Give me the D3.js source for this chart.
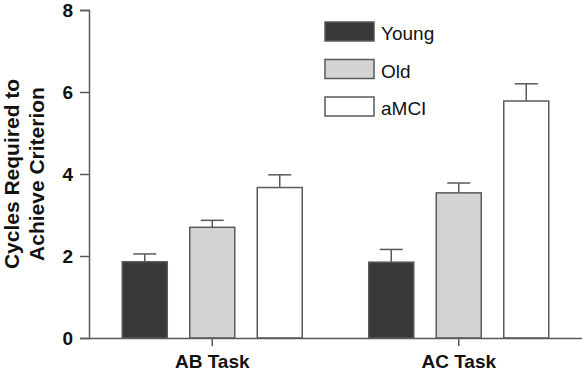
<!DOCTYPE html>
<html lang="en">
<head>
<meta charset="UTF-8">
<title>Cycles Required to Achieve Criterion</title>
<script src="https://d3js.org/d3.v7.min.js"></script>
<style>
    body { margin: 0; background: #fff; }
    svg text { font-family: Arial, "Liberation Sans", sans-serif; }
    .tick-label { font-size: 19px; font-weight: bold; fill: #111; }
    .axis-title { font-size: 21px; font-weight: bold; fill: #111; }
    .legend-label { font-size: 19px; fill: #111; }
</style>
</head>
<body>
<div id="chart"></div>
<script>
    // data
    const tasks = ["AB Task", "AC Task"];
    const groups = ["Young", "Old", "aMCI"];
    const means = [
        [1.86, 2.70, 3.67],
        [1.85, 3.54, 5.78]
    ];
    const errors = [
        [0.19, 0.17, 0.31],
        [0.31, 0.24, 0.42]
    ];
    const yTicks = [0, 2, 4, 6, 8];
    const fills = ["#393939", "#d3d4d6", "#ffffff"];

    const width = 582, height = 374;
    const margin = { left: 89, right: 0, top: 10, bottom: 36 };
    const lineColor = "#5a5a5a";

    const svg = d3.select("#chart").append("svg")
        .attr("width", width)
        .attr("height", height);

    const y = d3.scaleLinear()
        .domain([0, 8])
        .range([height - margin.bottom, margin.top]);

    const x0 = d3.scaleBand()
        .domain(tasks)
        .range([margin.left, width - margin.right]);

    // bars inside each task group, relative to its centre
    const x1 = d3.scaleBand()
        .domain(groups)
        .range([-90, 90])
        .paddingInner(0.333);

    // bars + error bars
    tasks.forEach((t, ti) => {
        const cx = x0(t) + x0.bandwidth() / 2;
        const g = svg.append("g").attr("transform", `translate(${cx},0)`);
        groups.forEach((grp, gi) => {
            const bx = x1(grp), bw = x1.bandwidth();
            const m = means[ti][gi], e = errors[ti][gi];
            const mid = bx + bw / 2;
            g.append("line")
                .attr("x1", mid).attr("x2", mid)
                .attr("y1", y(m)).attr("y2", y(m + e))
                .attr("stroke", lineColor).attr("stroke-width", 1.5);
            g.append("line")
                .attr("x1", mid - 11.5).attr("x2", mid + 11.5)
                .attr("y1", y(m + e)).attr("y2", y(m + e))
                .attr("stroke", lineColor).attr("stroke-width", 1.5);
            g.append("rect")
                .attr("x", bx).attr("width", bw)
                .attr("y", y(m)).attr("height", y(0) - y(m))
                .attr("fill", fills[gi])
                .attr("stroke", lineColor).attr("stroke-width", 1.5);
        });
    });

    // y axis
    const yAxis = svg.append("g")
        .attr("transform", `translate(${margin.left},0)`)
        .call(d3.axisLeft(y).tickValues(yTicks).tickSize(9).tickPadding(7));
    yAxis.select(".domain").attr("stroke", lineColor).attr("stroke-width", 1.5);
    yAxis.selectAll(".tick line").attr("stroke", lineColor).attr("stroke-width", 1.5);
    yAxis.selectAll(".tick text").attr("class", "tick-label");

    // x axis
    const xAxis = svg.append("g")
        .attr("transform", `translate(0,${y(0)})`)
        .call(d3.axisBottom(x0).tickSize(8).tickSizeOuter(0).tickPadding(9));
    xAxis.select(".domain").attr("stroke", lineColor).attr("stroke-width", 1.5);
    xAxis.selectAll(".tick line").attr("stroke", lineColor).attr("stroke-width", 1.5);
    xAxis.selectAll(".tick text").attr("class", "tick-label");

    // y axis title (two lines)
    const midY = (y(0) + y(8)) / 2;
    const title = svg.append("text")
        .attr("class", "axis-title")
        .attr("transform", `translate(0,${midY}) rotate(-90)`)
        .attr("text-anchor", "middle");
    title.append("tspan").attr("x", 0).attr("y", 19).text("Cycles Required to");
    title.append("tspan").attr("x", 0).attr("y", 44).text("Achieve Criterion");

    // legend
    const legend = svg.append("g").attr("transform", "translate(325,22)");
    groups.forEach((grp, i) => {
        const row = legend.append("g").attr("transform", `translate(0,${i * 37.5})`);
        row.append("rect")
            .attr("width", 49).attr("height", 19)
            .attr("fill", fills[i])
            .attr("stroke", lineColor).attr("stroke-width", 1.5);
        row.append("text")
            .attr("class", "legend-label")
            .attr("x", 56).attr("y", 18)
            .text(grp);
    });
</script>
</body>
</html>
